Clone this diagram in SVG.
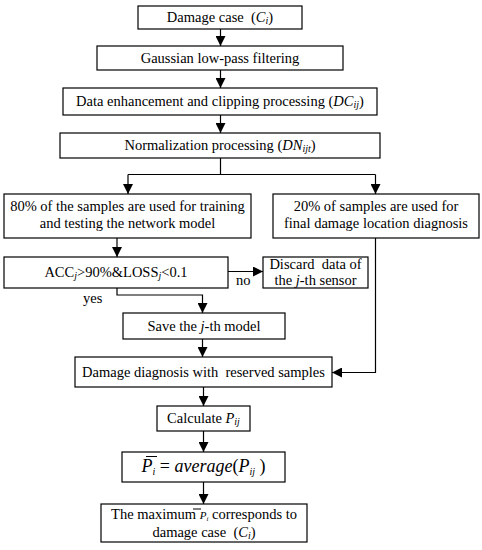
<svg xmlns="http://www.w3.org/2000/svg" width="482" height="550" viewBox="0 0 482 550" font-family="Liberation Serif" font-size="14.5">
<defs>
<marker id="ah" markerWidth="10" markerHeight="10" refX="10" refY="5" orient="auto" markerUnits="userSpaceOnUse" viewBox="0 0 10 10">
<path d="M0,0 L10,5 L0,10 Z" fill="#000"/>
</marker>
</defs>
<rect x="0" y="0" width="482" height="550" fill="#fff"/>
<g id="connectors">
<g fill="none" stroke="#000" stroke-width="1.2">
<line x1="220.5" y1="29" x2="220.5" y2="46" marker-end="url(#ah)"/>
<line x1="220.5" y1="70" x2="220.5" y2="88" marker-end="url(#ah)"/>
<line x1="220.5" y1="115" x2="220.5" y2="133" marker-end="url(#ah)"/>
<path d="M220.5,158 V174.5"/>
<path d="M128,174.5 H375.5"/>
<line x1="128" y1="174.5" x2="128" y2="194" marker-end="url(#ah)"/>
<line x1="375.5" y1="174.5" x2="375.5" y2="194" marker-end="url(#ah)"/>
<line x1="117" y1="238" x2="117" y2="257" marker-end="url(#ah)"/>
<line x1="228" y1="271.5" x2="263" y2="271.5" marker-end="url(#ah)"/>
<path d="M117,288 V295 H202.5 V313" marker-end="url(#ah)"/>
<line x1="202.5" y1="339" x2="202.5" y2="357" marker-end="url(#ah)"/>
<path d="M375.5,238 V372.5 H332" marker-end="url(#ah)"/>
<line x1="203.5" y1="387" x2="203.5" y2="406" marker-end="url(#ah)"/>
<line x1="203.5" y1="431" x2="203.5" y2="452" marker-end="url(#ah)"/>
<line x1="203.5" y1="482" x2="203.5" y2="504" marker-end="url(#ah)"/>
</g>
<text x="236" y="285" font-family="Liberation Serif">no</text>
<text x="83" y="303" font-family="Liberation Serif">yes</text>
</g>
<g id="nodes" text-anchor="middle">
<g id="n1">
<rect x="138" y="6" width="164" height="23" fill="#fff" stroke="#000" stroke-width="1.2"/>
<text x="220" y="22" font-family="Liberation Serif" xml:space="preserve">Damage case  (<tspan font-style="italic">C</tspan><tspan font-size="10" font-style="italic" dy="2">i</tspan><tspan dy="-2">)</tspan></text>
</g>
<g id="n2">
<rect x="97" y="46" width="246" height="24" fill="#fff" stroke="#000" stroke-width="1.2"/>
<text x="220" y="63" font-family="Liberation Serif">Gaussian low-pass filtering</text>
</g>
<g id="n3">
<rect x="63" y="88" width="314" height="27" fill="#fff" stroke="#000" stroke-width="1.2"/>
<text x="220" y="106" font-family="Liberation Serif">Data enhancement and clipping processing (<tspan font-style="italic">DC</tspan><tspan font-size="10" font-style="italic" dy="2">ij</tspan><tspan dy="-2">)</tspan></text>
</g>
<g id="n4">
<rect x="60" y="133" width="320" height="25" fill="#fff" stroke="#000" stroke-width="1.2"/>
<text x="220" y="150" font-family="Liberation Serif">Normalization processing (<tspan font-style="italic">DN</tspan><tspan font-size="10" font-style="italic" dy="2">ijt</tspan><tspan dy="-2">)</tspan></text>
</g>
<g id="n5">
<rect x="4" y="194" width="247" height="44" fill="#fff" stroke="#000" stroke-width="1.2"/>
<text x="127.5" y="211" font-family="Liberation Serif">80% of the samples are used for training</text>
<text x="127.5" y="228" font-family="Liberation Serif">and testing the network model</text>
</g>
<g id="n6">
<rect x="273" y="194" width="206" height="44" fill="#fff" stroke="#000" stroke-width="1.2"/>
<text x="376" y="211" font-family="Liberation Serif">20% of samples are used for</text>
<text x="376" y="228" font-family="Liberation Serif">final damage location diagnosis</text>
</g>
<g id="n7">
<rect x="4" y="257" width="224" height="31" fill="#fff" stroke="#000" stroke-width="1.2"/>
<text x="116" y="277" font-family="Liberation Serif">ACC<tspan font-size="10" font-style="italic" dy="2">j</tspan><tspan dy="-2">&gt;90%&amp;LOSS</tspan><tspan font-size="10" font-style="italic" dy="2">j</tspan><tspan dy="-2">&lt;0.1</tspan></text>
</g>
<g id="n8">
<rect x="263" y="257" width="105" height="31" fill="#fff" stroke="#000" stroke-width="1.2"/>
<text x="315.5" y="269" font-family="Liberation Serif" xml:space="preserve">Discard  data of</text>
<text x="315.5" y="285" font-family="Liberation Serif">the <tspan font-style="italic">j</tspan>-th sensor</text>
</g>
<g id="n9">
<rect x="123" y="313" width="162" height="26" fill="#fff" stroke="#000" stroke-width="1.2"/>
<text x="204" y="331" font-family="Liberation Serif">Save the <tspan font-style="italic">j</tspan>-th model</text>
</g>
<g id="n10">
<rect x="75" y="357" width="257" height="30" fill="#fff" stroke="#000" stroke-width="1.2"/>
<text x="203.5" y="377" font-family="Liberation Serif" xml:space="preserve">Damage diagnosis with  reserved samples</text>
</g>
<g id="n11">
<rect x="157" y="406" width="93" height="25" fill="#fff" stroke="#000" stroke-width="1.2"/>
<text x="203.5" y="423" font-family="Liberation Serif">Calculate <tspan font-style="italic">P</tspan><tspan font-size="10" font-style="italic" dy="2">ij</tspan></text>
</g>
<g id="n12">
<rect x="122" y="452" width="163" height="30" fill="#fff" stroke="#000" stroke-width="1.2"/>
<line x1="146" y1="456.5" x2="157" y2="456.5" stroke="#000" stroke-width="1"/>
<text x="203.5" y="472" font-family="Liberation Serif" font-size="18"><tspan font-style="italic">P</tspan><tspan font-size="10" font-style="italic" dy="3">i</tspan><tspan dy="-3"> = </tspan><tspan font-style="italic">average</tspan>(<tspan font-style="italic">P</tspan><tspan font-size="10" font-style="italic" dy="3">ij</tspan><tspan dy="-3"> )</tspan></text>
</g>
<g id="n13">
<rect x="101" y="504" width="206" height="38" fill="#fff" stroke="#000" stroke-width="1.2"/>
<line x1="193" y1="509" x2="201" y2="509" stroke="#000" stroke-width="1"/>
<text x="204" y="519" font-family="Liberation Serif">The maximum <tspan font-style="italic" font-size="11">P</tspan><tspan font-size="7" font-style="italic" dy="2">i</tspan><tspan dy="-2"> corresponds to</tspan></text>
<text x="204" y="537" font-family="Liberation Serif" xml:space="preserve">damage case  (<tspan font-style="italic">C</tspan><tspan font-size="10" font-style="italic" dy="2">i</tspan><tspan dy="-2">)</tspan></text>
</g>
</g>
</svg>
